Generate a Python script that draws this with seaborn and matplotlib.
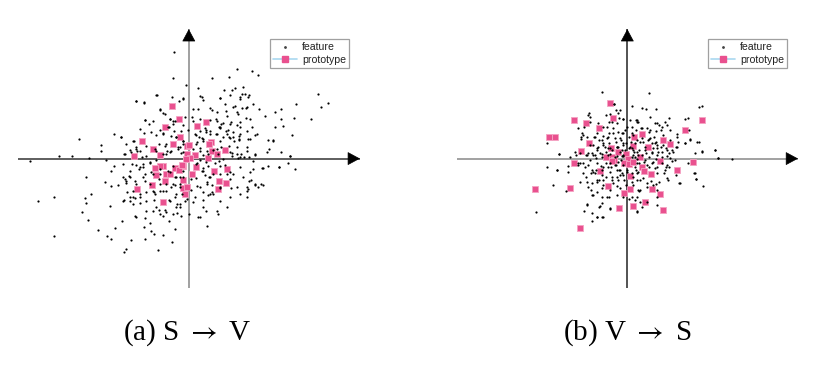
import pandas as pd
import matplotlib
matplotlib.use("Agg")
import matplotlib.pyplot as plt
import seaborn as sns
from matplotlib.lines import Line2D

# feature / prototype coordinates (offsets from the origin)
a_features = [
    (-44, 320), (-48, 241), (143, 268), (190, 263), (208, 251), (70, 241), (120, 245), (28, 213),
    (-7, 221), (-96, 192), (-157, 173), (-134, 169), (-29, 173), (-18, 180), (34, 187), (42, 177),
    (92, 181), (106, 205), (130, 207), (139, 211), (163, 215), (158, 195), (153, 179), (176, 184),
    (180, 192), (388, 195), (415, 167), (395, 155), (322, 163), (277, 149), (259, 141), (211, 149),
    (228, 127), (276, 119), (314, 123), (366, 119), (282, 97), (257, 95), (309, 71), (190, 95),
    (173, 83), (199, 71), (237, 57), (251, 55), (275, 19), (303, 9), (296, -13), (318, -31),
    (271, -25), (238, -23), (220, -27), (233, 19), (199, 11), (193, -7), (181, 5), (153, 5),
    (145, 13), (173, 35), (184, 58), (150, 67), (133, 79), (116, 85), (96, 103), (80, 119),
    (70, 147), (85, 139), (112, 143), (109, 163), (133, 155), (144, 139), (160, 152), (170, 153),
    (144, 100), (127, 109), (62, 75), (48, 91), (40, 63), (21, 71), (26, 49), (34, 32),
    (42, 12), (55, 22), (73, 27), (95, 35), (119, 39), (130, 18), (77, -12), (91, -6),
    (109, -19), (56, -22), (43, -27), (34, -5), (25, -12), (49, -48), (72, -45), (94, -45),
    (113, -45), (133, -45), (123, -60), (162, -55), (185, -65), (198, -80), (217, -75), (176, -91),
    (152, -106), (173, -115), (93, -85), (68, -101), (57, -110), (73, -105), (41, -99), (26, -81),
    (43, -125), (50, -157), (87, -165), (33, -175), (54, -203), (13, -129), (2, -165), (-27, -145),
    (-34, -163), (-59, -125), (-47, -165), (-58, -188), (-40, -211), (-50, -250), (-78, -228), (-91, -273),
    (-104, -225), (-114, -217), (-131, -241), (-134, -205), (-115, -193), (-132, -179), (-160, -171), (-147, -133),
    (-162, -117), (-177, -127), (-195, -125), (-184, -101), (-168, -97), (-158, -77), (-131, -67), (-130, -45),
    (-149, -32), (-171, -17), (-180, -53), (-196, -55), (-187, -73), (-212, -79), (-234, -82), (-234, -38),
    (-224, -22), (-252, -69), (-237, -143), (-272, -215), (-308, -133), (-321, -160), (-301, -185), (-310, -119),
    (-294, -105), (-308, -55), (-404, -115), (-452, -127), (-404, -232), (-245, -233), (-232, -241), (-222, -209),
    (-199, -187), (-172, -245), (-194, -280), (-187, -270), (-248, -4), (-299, 1), (-349, 7), (-388, 7),
    (-474, -7), (-329, 60), (-262, 40), (-264, 22), (-223, 74), (-204, 65), (-193, 15), (-175, 27),
    (-164, 53), (-134, 78), (-132, 117), (-119, 103), (-98, 71), (-78, 78), (-87, 149), (-72, 133),
    (-55, 120), (-40, 112), (-17, 101), (-11, 126), (13, 150), (11, 125), (-1, 87), (-44, 83),
    (-53, 68), (-90, 44), (-71, 38), (-66, 22), (-31, 28), (-17, 45), (-22, 18), (-99, -3),
    (-116, -13), (-137, -16), (-141, 5), (-155, 23), (-159, 34), (-107, -45), (-89, -60), (-62, -38),
    (-42, -56), (-40, -80), (-26, -85), (-69, -77), (-86, -97), (-103, -99), (-105, -125), (-89, -155),
    (-70, -153), (-35, -135), (-20, -105), (-5, -121), (8, -95), (22, -59), (55, -75), (103, 65),
    (83, 75), (63, 115), (89, 95), (124, 61), (149, 55), (172, 123), (153, 95), (33, 120),
    (51, 80), (31, 64), (43, 58), (51, 86), (64, 84), (81, 74), (92, 92), (101, 106),
    (111, 84), (121, 64), (136, 54), (151, 58), (157, 14), (166, 4), (146, 2), (129, 9),
    (101, -1), (86, 14), (51, -11), (38, -36), (61, -56), (68, -78), (93, -88), (126, -88),
    (174, -86), (181, -66), (221, -78), (208, -86), (191, -31), (221, -28), (271, -26), (239, 28),
    (251, 54), (303, 8), (-47, 114), (-59, 96), (-77, 74), (-37, 64), (-17, 54), (-27, 34),
    (-52, 24), (-67, 14), (-97, 24), (-127, 9), (-147, 24), (-157, -18), (-137, -26), (-112, -41),
    (-87, -46), (-57, -41), (-37, -56), (-17, -56), (-27, -76), (-52, -86), (-77, -96), (-102, -106),
    (-127, -101), (-147, -116), (-167, -116), (-187, -66), (-177, -56), (-42, -116), (-27, -136), (-67, -161),
    (-87, -166), (-107, -158),
    (-97, 190), (-49, 184), (-17, 182), (-157, 172), (-135, 166), (-85, 146), (-77, 136), (-107, 114),
    (-132, 116), (-57, 119), (-47, 104), (-62, 94), (-87, 86), (-112, 79), (-147, 89), (-167, 54),
    (-187, 44), (-157, 29), (-127, 39), (-102, 29), (-67, 44), (-37, 64), (-22, 84), (-17, 54),
    (-32, 34), (-57, 19), (-77, 14), (-17, 19), (-202, 64), (-192, 14), (-172, 19),
    (38, 184), (63, 152), (93, 182), (123, 190), (153, 184), (168, 194), (138, 159), (173, 154),
    (193, 164), (148, 134), (113, 129), (83, 114), (93, 94), (123, 104), (153, 109), (183, 119),
    (203, 74), (178, 59), (153, 74), (133, 64), (113, 74), (93, 54), (33, 84), (18, 74),
    (43, 54), (23, 44), (13, 29), (33, 24), (58, 14), (83, 29), (123, 19), (143, 34),
    (173, 24), (198, 14), (28, 149), (13, 114),
    (-197, -16), (-177, -36), (-192, -61), (-162, -66), (-137, -56), (-117, -76), (-147, -106), (-177, -116),
    (-197, -126), (-167, -136), (-127, -126), (-107, -96), (-87, -76), (-67, -96), (-47, -76), (-37, -106),
    (-57, -126), (-97, -146), (-127, -156), (-157, -174), (-77, -171), (-37, -146), (-22, -171), (-12, -126),
    (-27, -56), (-17, -36), (-47, -21), (-87, -31), (-117, -11), (-147, -26),
    (23, -16), (43, -36), (63, -56), (93, -21), (123, -41), (153, -26), (183, -41), (198, -76),
    (173, -96), (143, -86), (123, -116), (93, -126), (63, -106), (33, -86), (18, -116), (43, -146),
    (83, -156), (113, -146), (28, -176), (53, -71), (8, -61),
]

a_prototypes = [
    (-50, 159), (-29, 118), (-70, 95), (24, 97), (50, 111), (-25, 65), (-139, 53), (-46, 43),
    (-108, 30), (-5, 39), (2, 40), (65, 49), (60, 43), (109, 27), (68, 22), (85, 13),
    (-164, 7), (-86, 11), (-4, 15), (19, 12), (5, 3), (-9, -2), (56, 2), (-77, -23),
    (-85, -23), (-101, -29), (-41, -27), (-17, -22), (-29, -35), (-19, -18), (21, -25), (76, -36),
    (115, -32), (-97, -50), (-68, -46), (-55, -47), (11, -45), (-71, -68), (-16, -63), (90, -68),
    (111, -73), (-110, -80), (-155, -92), (-16, -87), (-6, -84), (87, -92), (-11, -105), (-76, -131),
]

b_features = [
    (-77, 199), (64, 196), (13, 158), (44, 152), (56, 148), (86, 150), (-41, 164), (-33, 146),
    (-22, 146), (-115, 136), (-113, 124), (-65, 132), (-56, 110), (-25, 121), (-13, 118), (26, 116),
    (31, 111), (68, 124), (94, 102), (112, 110), (125, 122), (172, 120), (181, 122), (215, 154),
    (225, 158), (184, 86), (149, 66), (172, 46), (188, 58), (215, 50), (264, 25), (224, 22),
    (202, 18), (272, 2), (313, -2), (201, -44), (207, -60), (228, -83), (155, -74), (123, -64),
    (115, -24), (135, -8), (120, 8), (105, 21), (90, 31), (75, 46), (80, 66), (100, 86),
    (87, 84), (65, 81), (40, 92), (25, 86), (15, 78), (0, 96), (-13, 76), (-27, 81),
    (-43, 91), (-55, 76), (-73, 68), (-85, 56), (-100, 66), (-138, 66), (-130, 96), (-147, 92),
    (-241, 48), (-206, 14), (-173, 6), (-155, 10), (-125, 10), (-105, 16), (-90, 26), (-67, 36),
    (-55, 46), (-35, 51), (-20, 56), (-5, 46), (10, 51), (30, 56), (47, 51), (65, 58),
    (85, 51), (100, 36), (115, 31), (135, 26), (145, 36), (125, 16), (75, 21), (55, 16),
    (35, 26), (20, 21), (5, 31), (-15, 26), (-30, 36), (-45, 26), (-63, 21), (-77, 14),
    (-95, 1), (-113, -4), (-133, -12), (-149, -14), (-177, -22), (-212, -34), (-242, -24), (-223, -78),
    (-184, -96), (-275, -160), (-142, -69), (-125, -54), (-110, -44), (-95, -34), (-80, -22), (-65, -14),
    (-50, -24), (-35, -19), (-25, -34), (-15, -44), (-30, -54), (-45, -64), (-65, -54), (-85, -64),
    (-105, -74), (-110, -94), (-90, -99), (-75, -89), (-55, -114), (-75, -134), (-85, -144), (-120, -136),
    (-130, -156), (-105, -164), (-107, -186), (-92, -174), (-76, -174), (-53, -152), (-13, -114), (5, -120),
    (22, -124), (30, -158), (45, -144), (35, -96), (58, -84), (70, -66), (85, -76), (90, -114),
    (84, -29), (65, -24), (35, -14), (25, -34), (15, -44), (30, -64), (15, -69), (-5, -79),
    (-10, -64), (0, -34), (-20, -4), (-13, 8), (15, 6), (30, -2), (50, -9), (65, 6),
    (85, -2), (105, -14), (125, -24), (145, -49), (110, -44), (95, -69),
    (8, 116), (28, 111), (13, 96), (43, 91), (68, 86), (88, 108), (103, 96), (118, 101),
    (128, 86), (148, 74), (153, 51), (173, 46), (188, 56), (208, 51), (223, 21), (263, 26),
    (273, 1), (183, -14), (203, -42), (206, -60), (158, -74), (113, -34), (88, -24), (73, -14),
    (53, -4), (33, 11), (18, 26), (8, 36), (23, 46), (53, 36), (78, 31), (93, 21),
    (103, 6), (128, 1), (143, -4), (23, -24), (33, -39), (18, -54), (38, -64), (58, -74),
    (33, -94), (13, -114), (38, -129), (28, -159), (88, -94), (88, -139), (23, 6), (5, 66),
    (43, 61), (63, 56), (83, 46), (108, 41), (118, 26), (138, 21),
    (-39, 164), (-29, 136), (-117, 130), (-52, 134), (-47, 111), (-12, 118), (-89, 108), (-62, 96),
    (-137, 76), (-139, 60), (-122, 66), (-97, 66), (-77, 56), (-57, 66), (-37, 61), (-17, 76),
    (-7, 86), (-102, 41), (-87, 36), (-72, 41), (-57, 31), (-27, 36), (-12, 41), (-157, 21),
    (-117, 16), (-97, 11), (-77, 6), (-57, 11), (-37, 6), (-17, 8), (-205, 14), (-212, -34),
    (-177, -39), (-147, -19), (-127, -24), (-107, -34), (-97, -44), (-77, -34), (-57, -24), (-37, -19),
    (-22, -34), (-12, -49), (-27, -64), (-47, -54), (-72, -64), (-92, -69), (-117, -84), (-107, -109),
    (-77, -114), (-52, -94), (-32, -82), (-122, -139), (-82, -142), (-72, -174), (-52, -149), (-92, -174),
    (-112, 111), (-72, 96), (-32, 106), (28, 116), (58, 91), (83, 106), (-132, 71), (-92, 76),
    (-62, 61), (-42, 76), (-22, 61), (-12, 46), (18, 71), (38, 51), (68, 61), (88, 41),
    (108, 71), (128, 56), (148, 36), (-112, 41), (-92, 31), (-72, 46), (-52, 31), (-32, 36),
    (-22, 21), (-7, 26), (13, 31), (28, 21), (53, 26), (73, 16), (-142, 16), (-122, 11),
    (-102, 11), (-82, 16), (-52, 13), (-32, 9), (-12, 11), (18, 11), (43, 11), (88, 11),
    (-142, -14), (-117, -19), (-92, -14), (-72, -24), (-52, -14), (-27, -9), (-12, -19), (28, -14),
    (58, -19), (78, -9), (118, -19), (-132, -44), (-102, -39), (-77, -49), (-52, -39), (-32, -34),
    (-22, -49), (-2, -39), (28, -44), (48, -59), (88, -44), (118, -59), (-122, -69), (-92, -64),
    (-72, -79), (-42, -74), (-22, -89), (18, -79), (38, -94), (78, -79), (-102, -109), (-62, -114),
    (-32, -109), (28, -114), (58, -129),
]

b_prototypes = [
    (-53, 168), (-44, 121), (-160, 115), (-123, 108), (-85, 91), (-236, 64), (-218, 64), (172, 87),
    (223, 117), (45, 73), (20, 64), (107, 55), (128, 43), (-116, 47), (-48, 32), (18, 38),
    (61, 36), (-138, 22), (-27, 20), (-45, 6), (-65, 4), (-3, 14), (3, 0), (38, 6),
    (-40, -4), (-47, -6), (-10, -14), (4, -16), (17, -11), (-159, -13), (198, -11), (97, -8),
    (43, -24), (50, -36), (72, -47), (148, -34), (-83, -37), (9, -51), (-171, -87), (-276, -92),
    (-57, -82), (8, -90), (75, -92), (98, -106), (-9, -102), (54, -131), (17, -143), (-25, -148),
    (107, -154), (-143, -208),
]

captions = ["(a) S $\\rightarrow$ V", "(b) V $\\rightarrow$ S"]

sns.set_theme(style="white")
plt.rcParams["font.family"] = ["Liberation Sans", "DejaVu Sans"]
plt.rcParams["mathtext.fontset"] = "stix"

fig = plt.figure(figsize=(8.38, 3.74), dpi=100)
ax_a = fig.add_axes([0.0215, 0.230, 0.408, 0.692])
ax_b = fig.add_axes([0.5453, 0.230, 0.407, 0.692])

pink = "#e9518f"
panels = [
    (ax_a, a_features, a_prototypes, "#333333", "#999999", 0.223),
    (ax_b, b_features, b_prototypes, "#888888", "#444444", 0.748),
]

for i, (ax, feats, protos, hcol, vcol, cx) in enumerate(panels):
    xmin, xmax, ymin, ymax = -511, 512, -388, 388
    # axis lines with arrow heads
    ax.plot([xmin, xmax], [0, 0], color=hcol, lw=1.1, zorder=1)
    ax.plot([0, 0], [ymin, ymax], color=vcol, lw=1.3, zorder=1)
    head = dict(arrowstyle="-|>,head_length=8,head_width=4.3", color="black",
                lw=0.5, shrinkA=0, shrinkB=0, mutation_scale=1)
    ax.annotate("", xy=(xmax, 0), xytext=(xmax - 5, 0), arrowprops=head)
    ax.annotate("", xy=(0, ymax), xytext=(0, ymax - 5), arrowprops=head)

    fdf = pd.DataFrame(feats, columns=["x", "y"])
    pdf = pd.DataFrame(protos, columns=["x", "y"])
    sns.scatterplot(data=pdf, x="x", y="y", ax=ax, marker="s", s=22, color=pink,
                    edgecolor="#f5a3c3", linewidth=0.6, zorder=2)
    sns.scatterplot(data=fdf, x="x", y="y", ax=ax, marker="o", s=2.5, color="black",
                    linewidth=0, zorder=3)

    ax.set_xlim(xmin, xmax)
    ax.set_ylim(ymin, ymax)
    ax.axis("off")

    handles = [
        Line2D([], [], ls="none", marker="o", markersize=1.0, color="#444444"),
        Line2D([], [], color="#a9d8f0", lw=1.2, marker="s", markersize=5,
               markerfacecolor=pink, markeredgecolor=pink),
    ]
    leg = ax.legend(handles, ["feature", "prototype"], loc="upper right",
                    bbox_to_anchor=(0.968, 0.961), fontsize=7.6, frameon=True,
                    fancybox=False, edgecolor="#888888", handlelength=2.2,
                    handletextpad=0.5, borderpad=0.3, labelspacing=0.2,
                    borderaxespad=0)
    leg.get_frame().set_linewidth(0.9)
    for t in leg.get_texts():
        t.set_color("#222222")

    fig.text(cx, 0.091, captions[i], ha="center", va="baseline", fontsize=21,
             color="black", family=["Liberation Serif", "DejaVu Serif"])

fig.savefig("out.png", dpi=100)
